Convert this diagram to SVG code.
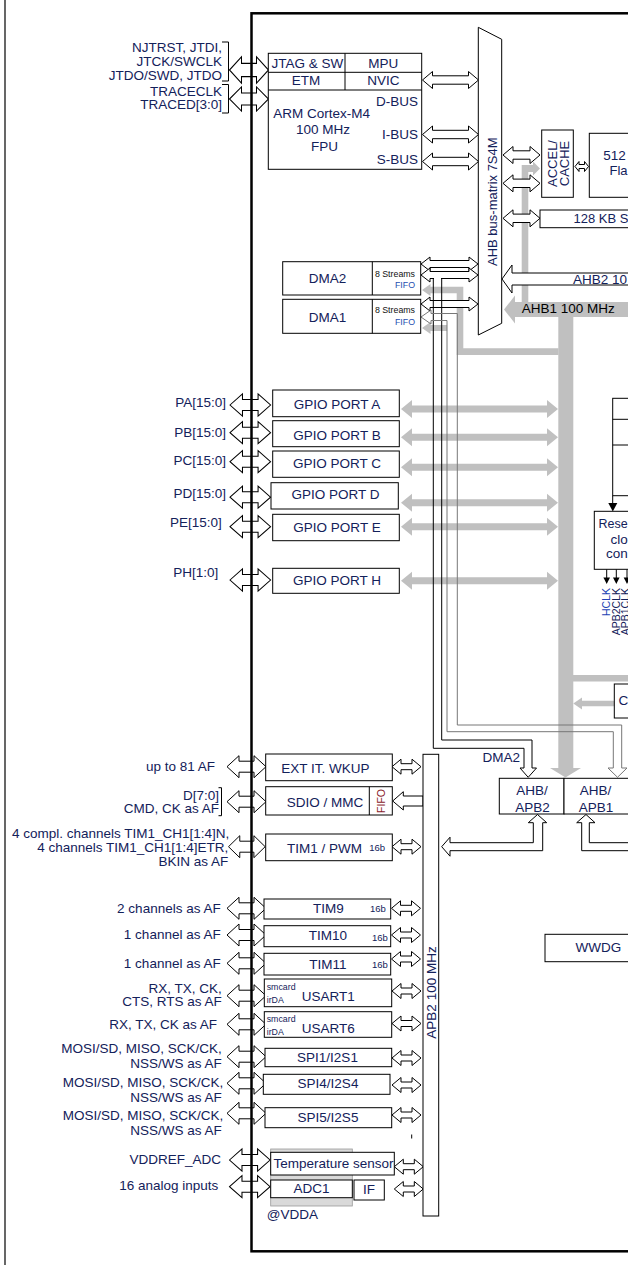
<svg xmlns="http://www.w3.org/2000/svg" width="628" height="1265" viewBox="0 0 628 1265">
<style>
text{font-family:"Liberation Sans",Arial,Helvetica,sans-serif;font-size:13.5px;fill:#13215a}
.e{text-anchor:end}
.m{text-anchor:middle}
.bx{fill:#fff;stroke:#000;stroke-width:1}
.ln{fill:none;stroke:#000;stroke-width:1}
.arw{fill:#fff;stroke:#000;stroke-width:1}
.g{fill:#c0c0c0;stroke:none}
.b16{font-size:9.5px}
.tn{font-size:8.8px}
.ck{font-size:10.5px}
.bl{fill:#000}
.fi{fill:#1f4fb0}
</style>
<defs>
<polygon id="ab" class="arw" points="0,0 12,-11 12,-5.5 27,-5.5 27,-11 39,0 27,11 27,5.5 12,5.5 12,11"/>
<polygon id="as" class="arw" points="0,0 9,-7.5 9,-3 20,-3 20,-7.5 29,0 20,7.5 20,3 9,3 9,7.5"/>
<polygon id="am" class="arw" points="0,0 10,-8.5 10,-4.2 46,-4.2 46,-8.5 56,0 46,8.5 46,4.2 10,4.2 10,8.5"/>
<polygon id="ad" class="arw" points="0,0 9,-7 9,-3.5 48,-3.5 48,-7 57,0 48,7 48,3.5 9,3.5 9,7"/>
<polygon id="ar" class="arw" points="0,0 10,-8.5 10,-4.2 27,-4.2 27,-8.5 37,0 27,8.5 27,4.2 10,4.2 10,8.5"/>
<polygon id="ga" class="g" points="0,0 11,-9 11,-3.5 146,-3.5 146,-9 157,0 146,9 146,3.5 11,3.5 11,9"/>
</defs>
<rect width="628" height="1265" fill="#fff"/>
<line x1="5" y1="0" x2="5" y2="1265" stroke="#000" stroke-width="1.2"/>

<g id="connectors">
<polygon class="g" points="504,309.5 515,295.5 515,302 640,302 640,317 515,317 515,323.5"/>
<polygon class="g" points="521.7,305 521.7,165 533,165 533,161.5 540,168.5 533,175.5 533,172 528.3,172 528.3,305"/>
<rect class="g" x="558.3" y="305" width="15" height="463"/>
<polygon class="g" points="550,768 581,768 565.5,777.5"/>
<rect class="g" x="573" y="675" width="60" height="6.5"/>
<polygon class="g" points="573.3,703.5 582,697.5 582,700.7 614.3,700.7 614.3,706.3 582,706.3 582,709.5"/>
<polygon class="g" points="422,290 430.5,284 430.5,286.7 463.3,286.7 463.3,348.3 558.5,348.3 558.5,355 456.7,355 456.7,293.3 430.5,293.3 430.5,296"/>
<polygon class="g" points="422,328 430.5,322 430.5,325 447,325 447,331 430.5,331 430.5,334"/>
<use href="#ga" x="401" y="409"/>
<use href="#ga" x="401" y="437.3"/>
<use href="#ga" x="401" y="467.3"/>
<use href="#ga" x="401" y="502.7"/>
<use href="#ga" x="401" y="526.7"/>
<use href="#ga" x="401" y="580.7"/>

<use href="#ab" transform="translate(229.5,70) scale(1,1.2)"/>
<use href="#ab" transform="translate(229.5,99) scale(1,1.1)"/>
<use href="#ab" transform="translate(230,405) scale(1.04,1)"/>
<use href="#ab" transform="translate(230,432.7) scale(1.04,1)"/>
<use href="#ab" transform="translate(230,461.7) scale(1.04,1)"/>
<use href="#ab" transform="translate(230,497.2) scale(1.04,1)"/>
<use href="#ab" transform="translate(230,526.7) scale(1.04,1)"/>
<use href="#ab" transform="translate(230,580) scale(1.04,1)"/>
<use href="#ab" x="227" y="766.7"/>
<use href="#ab" x="227" y="801.7"/>
<use href="#ab" transform="translate(228.5,846.7) scale(0.94,1)"/>
<use href="#ab" x="227" y="908.3"/>
<use href="#ab" x="227" y="935"/>
<use href="#ab" x="227" y="963.3"/>
<use href="#ab" x="227" y="995.7"/>
<use href="#ab" x="227" y="1024.3"/>
<use href="#ab" x="227" y="1056.7"/>
<use href="#ab" x="227" y="1083.3"/>
<use href="#ab" x="227" y="1113.3"/>
<use href="#ab" transform="translate(229.5,1160) scale(1.04,1)"/>
<use href="#ab" transform="translate(229.5,1186.7) scale(1.04,1)"/>

<use href="#am" x="422.5" y="80"/>
<use href="#am" x="422.5" y="134.5"/>
<use href="#am" x="422.5" y="161.5"/>
<use href="#ad" x="421" y="264"/>
<use href="#ad" x="421" y="275"/>
<use href="#ad" x="421" y="304"/>
<use href="#ar" x="503" y="155"/>
<use href="#ar" x="503" y="183.3"/>
<use href="#ar" x="503" y="218.3"/>
<polygon class="arw" points="575,166.5 579,161.5 579,164.5 584.5,164.5 584.5,161.5 588.5,166.5 584.5,171.5 584.5,168.5 579,168.5 579,171.5"/>
<polygon class="arw" points="502,279 512,265 512,273 640,273 640,285 512,285 512,293"/>

<polygon class="arw" points="392.7,801 403.3,791.7 403.3,796 423,796 423,806 403.3,806 403.3,810"/>
<use href="#as" x="392" y="766.7"/>
<use href="#as" x="392" y="846.7"/>
<use href="#as" x="391.5" y="908.3"/>
<use href="#as" x="391.5" y="935"/>
<use href="#as" x="391.5" y="959"/>
<use href="#as" x="392" y="991"/>
<use href="#as" x="392" y="1023.5"/>
<use href="#as" x="392" y="1058"/>
<use href="#as" x="392" y="1085"/>
<use href="#as" x="392" y="1115"/>
<use href="#as" x="394.3" y="1166.7"/>
<use href="#as" x="394.3" y="1189"/>
<line class="ln" x1="411.7" y1="1134.5" x2="411.7" y2="1138.5"/>

<polygon class="arw" points="441.7,846.7 450,837.2 450,842.7 533.3,842.7 533.3,822.7 528.3,822.7 537.5,814.5 546.7,822.7 542.7,822.7 542.7,850.7 450,850.7 450,856.2"/>
<polyline class="arw" points="640,842.7 589.3,842.7 589.3,822.7 595,822.7 586,814.5 576.7,822.7 581.7,822.7 581.7,850.7 640,850.7"/>

<line x1="434" y1="278.5" x2="441" y2="278.5" stroke="#fff" stroke-width="1.6"/>
<polyline class="ln" points="433.3,278.5 433.3,748.3 524,748.3 524,768 520,768 528.2,777.3 536.5,768 532,768 532,740 441.7,740 441.7,278.5"/>
<polygon fill="none" stroke="#777" stroke-width="1" points="421,317 431,310 431,313.5 457.3,313.5 457.3,725 621.7,725 621.7,768 627,768 617.5,777.3 608,768 613.3,768 613.3,731.7 447,731.7 447,320.5 431,320.5 431,324"/>

<line class="ln" x1="612.7" y1="495.7" x2="612.7" y2="503.5"/>
<polygon class="bl" points="608.3,503 617.3,503 612.8,511.5"/>
<line class="ln" x1="606.7" y1="569.3" x2="606.7" y2="578"/>
<polygon class="bl" points="603.4,577.5 610,577.5 606.7,584"/>
<line class="ln" x1="616.3" y1="569.3" x2="616.3" y2="578"/>
<polygon class="bl" points="613,577.5 619.6,577.5 616.3,584"/>
<line class="ln" x1="627" y1="569.3" x2="627" y2="578"/>
<polygon class="bl" points="623.7,577.5 630.3,577.5 627,584"/>

<polyline class="ln" points="222,42 228.5,42 228.5,81 222,81"/>
<polyline class="ln" points="222,84.5 228.5,84.5 228.5,113 222,113"/>
<polyline class="ln" points="218.5,787.7 221.5,787.7 221.5,815.7 218.5,815.7"/>
</g>

<g id="n-cortex">
<rect class="bx" x="268.3" y="53.3" width="153.4" height="116"/>
<line class="ln" x1="268.3" y1="72.3" x2="421.7" y2="72.3"/>
<line class="ln" x1="268.3" y1="90" x2="421.7" y2="90"/>
<line class="ln" x1="345" y1="53.3" x2="345" y2="90"/>
<text class="m" x="307.5" y="68">JTAG &amp; SW</text>
<text class="m" x="383.3" y="68">MPU</text>
<text class="m" x="306" y="85">ETM</text>
<text class="m" x="383.3" y="85">NVIC</text>
<text class="e" x="418" y="105.5">D-BUS</text>
<text class="m" x="321.7" y="117.5">ARM Cortex-M4</text>
<text class="m" x="323" y="134">100 MHz</text>
<text class="m" x="324.5" y="151">FPU</text>
<text class="e" x="418" y="138.5">I-BUS</text>
<text class="e" x="418" y="164">S-BUS</text>
</g>

<g id="n-matrix">
<polygon class="bx" points="478.3,27.3 501.7,39.3 501.7,323.3 478.3,335"/>
<text class="m" transform="translate(496.5,201.7) rotate(-90)" style="font-size:13px">AHB bus-matrix 7S4M</text>
</g>

<g id="n-accel">
<rect class="bx" x="541.7" y="130" width="31.6" height="67.3"/>
<text class="m" transform="translate(557,163.5) rotate(-90)" style="font-size:13px">ACCEL/</text>
<text class="m" transform="translate(568.5,163.5) rotate(-90)" style="font-size:13px">CACHE</text>
</g>

<g id="n-flash">
<rect class="bx" x="589.3" y="133.3" width="100" height="64"/>
<text x="603.3" y="160">512</text>
<text x="609.5" y="175" style="font-size:13px">Fla</text>
</g>

<g id="n-sram">
<rect class="bx" x="540" y="210" width="150" height="17.7"/>
<text x="573.5" y="222.7" style="font-size:13px">128 KB S</text>
</g>

<g id="n-ahb2-label"><text x="573" y="283.5">AHB2 10</text></g>
<g id="n-ahb1-label"><text x="521.7" y="313.3" style="fill:#000">AHB1 100 MHz</text></g>

<g id="n-dma2">
<rect class="bx" x="282.7" y="261.7" width="138" height="33.3"/>
<line class="ln" x1="372.3" y1="261.7" x2="372.3" y2="295"/>
<text class="m" x="327.5" y="283.3">DMA2</text>
<text class="e tn" x="415" y="276.7" style="fill:#111">8 Streams</text>
<text class="e tn fi" x="415" y="288.3">FIFO</text>
</g>

<g id="n-dma1">
<rect class="bx" x="282.7" y="299.3" width="138" height="34"/>
<line class="ln" x1="372.3" y1="299.3" x2="372.3" y2="333.3"/>
<text class="m" x="327.5" y="321.7">DMA1</text>
<text class="e tn" x="415" y="313.3" style="fill:#111">8 Streams</text>
<text class="e tn fi" x="415" y="325">FIFO</text>
</g>

<g id="n-gpioa"><rect class="bx" x="272.7" y="390" width="126.6" height="26.7"/><text class="m" x="337" y="409.3">GPIO PORT A</text></g>
<g id="n-gpiob"><rect class="bx" x="272.7" y="420.7" width="126.6" height="26"/><text class="m" x="337" y="440">GPIO PORT B</text></g>
<g id="n-gpioc"><rect class="bx" x="272.7" y="451" width="126.6" height="26.3"/><text class="m" x="337" y="468.3">GPIO PORT C</text></g>
<g id="n-gpiod"><rect class="bx" x="271" y="482.7" width="127.3" height="26.3"/><text class="m" x="335.5" y="499">GPIO PORT D</text></g>
<g id="n-gpioe"><rect class="bx" x="272.7" y="514.3" width="126.6" height="26.4"/><text class="m" x="337" y="531.7">GPIO PORT E</text></g>
<g id="n-gpioh"><rect class="bx" x="272.7" y="568.3" width="126.6" height="25"/><text class="m" x="337" y="585">GPIO PORT H</text></g>

<g id="n-clkbox">
<rect class="bx" x="612.7" y="398.3" width="100" height="97.4"/>
<line class="ln" x1="612.7" y1="419.3" x2="628" y2="419.3"/>
<line class="ln" x1="612.7" y1="445" x2="628" y2="445"/>
</g>

<g id="n-rcc">
<rect class="bx" x="594.3" y="511.3" width="100" height="58"/>
<text x="598.5" y="527.7" style="font-size:12.5px">Rese</text>
<text x="610.5" y="544">clo</text>
<text x="606" y="557.7">con</text>
<text class="e ck" transform="translate(610,588) rotate(-90)" style="fill:#2342b5">HCLK</text>
<text class="e ck" transform="translate(620.3,588) rotate(-90)">APB2CLK</text>
<text class="e ck" transform="translate(628.5,588) rotate(-90)">APB1CLK</text>
</g>

<g id="n-crc">
<rect class="bx" x="614.3" y="684" width="100" height="34"/>
<text x="618.5" y="705">C</text>
</g>

<g id="n-bridge2">
<rect class="bx" x="499.3" y="778.3" width="64.7" height="35.7"/>
<text class="m" x="532" y="795">AHB/</text>
<text class="m" x="532.5" y="811.5">APB2</text>
<text class="e" x="520" y="761.7">DMA2</text>
</g>

<g id="n-bridge1">
<rect class="bx" x="564" y="778.3" width="120" height="35.7"/>
<text class="m" x="595.5" y="795">AHB/</text>
<text class="m" x="596" y="811.5">APB1</text>
</g>

<g id="n-wwdg">
<rect class="bx" x="545" y="934.3" width="150" height="27.4"/>
<text class="m" x="598.3" y="951.7">WWDG</text>
</g>

<g id="n-apb2">
<rect class="bx" x="423" y="754.3" width="15.7" height="461.7"/>
<text class="m" transform="translate(436,992.5) rotate(-90)">APB2 100 MHz</text>
</g>

<g id="n-extit"><rect class="bx" x="265.7" y="754" width="126.6" height="26.7"/><text class="m" x="325.5" y="773.3">EXT IT. WKUP</text></g>
<g id="n-sdio">
<rect class="bx" x="265.7" y="786.7" width="126.6" height="28.3"/>
<line class="ln" x1="369.3" y1="786.7" x2="369.3" y2="815"/>
<text class="m" x="325" y="806.7">SDIO / MMC</text>
<text class="m" transform="translate(384.5,801) rotate(-90)" style="font-size:10.5px;fill:#8a1a2a">FIFO</text>
</g>
<g id="n-tim1"><rect class="bx" x="265.7" y="834" width="126.6" height="26.7"/><text class="m" x="324.5" y="853.3">TIM1 / PWM</text><text class="b16" x="369.3" y="851">16b</text></g>
<g id="n-tim9"><rect class="bx" x="264" y="899" width="126.7" height="20"/><text class="m" x="328.3" y="913.3">TIM9</text><text class="b16" x="370" y="911.5">16b</text></g>
<g id="n-tim10"><rect class="bx" x="264" y="925.7" width="126.7" height="21"/><text class="m" x="328" y="940">TIM10</text><text class="b16" x="372" y="940.5">16b</text></g>
<g id="n-tim11"><rect class="bx" x="264" y="953.3" width="126.7" height="21.7"/><text class="m" x="328" y="969">TIM11</text><text class="b16" x="372" y="968">16b</text></g>
<g id="n-usart1"><rect class="bx" x="264.3" y="979" width="127.4" height="27.7"/><text class="tn" x="266.7" y="990">smcard</text><text class="tn" x="266.7" y="1002.5">irDA</text><text x="301.7" y="1001">USART1</text></g>
<g id="n-usart6"><rect class="bx" x="264.3" y="1011.7" width="127.4" height="25.6"/><text class="tn" x="266.7" y="1021.5">smcard</text><text class="tn" x="266.7" y="1035">irDA</text><text x="301.7" y="1033.3">USART6</text></g>
<g id="n-spi1"><rect class="bx" x="265" y="1048.3" width="126.7" height="18.4"/><text class="m" x="327.5" y="1062.3">SPI1/I2S1</text></g>
<g id="n-spi4"><rect class="bx" x="263.3" y="1074.3" width="126.7" height="20"/><text class="m" x="328" y="1088.3">SPI4/I2S4</text></g>
<g id="n-spi5"><rect class="bx" x="265" y="1107.7" width="126.7" height="20"/><text class="m" x="328" y="1121.7">SPI5/I2S5</text></g>
<g id="n-adc">
<rect x="270.7" y="1149" width="81.6" height="57" fill="#d9d9d9" stroke="#999" stroke-width="0.8"/>
<rect class="bx" x="270.7" y="1152.3" width="123.6" height="22.7"/>
<text x="273.5" y="1167.7">Temperature sensor</text>
<rect class="bx" x="270.7" y="1180" width="81.6" height="17.7"/>
<text class="m" x="311.5" y="1193.3">ADC1</text>
<rect class="bx" x="354" y="1180" width="30.3" height="20"/>
<text class="m" x="369" y="1194.3">IF</text>
<text x="266.7" y="1219">@VDDA</text>
</g>

<g id="labels">
<text class="e" x="222" y="51.5">NJTRST, JTDI,</text>
<text class="e" x="222" y="66.2">JTCK/SWCLK</text>
<text class="e" x="222" y="80">JTDO/SWD, JTDO</text>
<text class="e" x="222" y="95.5">TRACECLK</text>
<text class="e" x="222" y="109">TRACED[3:0]</text>
<text class="e" x="226" y="406.7">PA[15:0]</text>
<text class="e" x="226" y="436.7">PB[15:0]</text>
<text class="e" x="226" y="465">PC[15:0]</text>
<text class="e" x="226" y="498.3">PD[15:0]</text>
<text class="e" x="221.7" y="526.7">PE[15:0]</text>
<text class="e" x="218.3" y="576.7">PH[1:0]</text>
<text class="e" x="215" y="771">up to 81 AF</text>
<text class="e" x="219" y="800">D[7:0]</text>
<text class="e" x="219" y="812.7">CMD, CK as AF</text>
<text class="e" x="229.3" y="837.7">4 compl. channels TIM1_CH1[1:4]N,</text>
<text class="e" x="228.3" y="852.3">4 channels TIM1_CH1[1:4]ETR,</text>
<text class="e" x="228.3" y="865.7">BKIN as AF</text>
<text class="e" x="220.7" y="912.7">2 channels as AF</text>
<text class="e" x="220.7" y="939.3">1 channel as AF</text>
<text class="e" x="220.7" y="968.3">1 channel as AF</text>
<text class="e" x="221.7" y="993.3">RX, TX, CK,</text>
<text class="e" x="221.7" y="1006">CTS, RTS as AF</text>
<text class="e" x="217" y="1029">RX, TX, CK as AF</text>
<text class="e" x="221.7" y="1053.3">MOSI/SD, MISO, SCK/CK,</text>
<text class="e" x="221.7" y="1068.3">NSS/WS as AF</text>
<text class="e" x="223.3" y="1086.7">MOSI/SD, MISO, SCK/CK,</text>
<text class="e" x="221.7" y="1101.7">NSS/WS as AF</text>
<text class="e" x="223.3" y="1120">MOSI/SD, MISO, SCK/CK,</text>
<text class="e" x="221.7" y="1135">NSS/WS as AF</text>
<text class="e" x="221" y="1164.3">VDDREF_ADC</text>
<text class="e" x="218.3" y="1190">16 analog inputs</text>
</g>

<rect id="chip-frame" x="251.5" y="13.3" width="500" height="1238" fill="none" stroke="#000" stroke-width="2.5"/>
</svg>
